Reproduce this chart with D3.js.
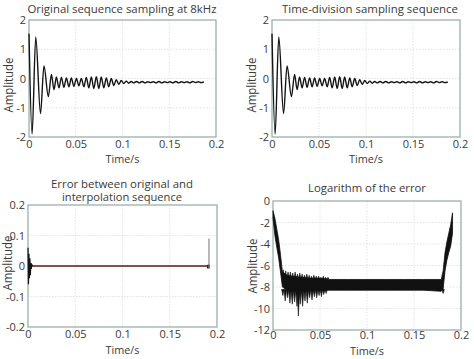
<!DOCTYPE html>
<html><head><meta charset="utf-8">
<script src="https://cdn.jsdelivr.net/npm/d3@7"></script>
<style>
body{margin:0;background:#fff;}
text{font-family:"Open Sans","Noto Sans",sans-serif;fill:#3a3a3a;}
</style></head>
<body><svg id="c" width="474" height="359"></svg>
<script>
// ---------- data ----------
const xTicks = [0, 0.05, 0.1, 0.15, 0.2];
const xTickLabels = ["0", "0.05", "0.1", "0.15", "0.2"];
const ampTicks = [-2, -1, 0, 1, 2];
const errTicks = [-0.2, -0.1, 0, 0.1, 0.2];
const logTicks = [-12, -10, -8, -6, -4, -2, 0];

// extrema of the sampled signal (time s, amplitude)
const sigT = [0, 0.0033, 0.0072, 0.0123, 0.016, 0.0207, 0.024, 0.0267, 0.0293, 0.032, 0.0347, 0.0373, 0.040, 0.0427, 0.0453, 0.048, 0.0507, 0.0533, 0.056, 0.0587, 0.0613, 0.064, 0.0667, 0.0693, 0.072, 0.0747, 0.0773, 0.080, 0.0827, 0.0853, 0.088, 0.0907, 0.0933, 0.096, 0.0987, 0.1013, 0.104, 0.1067, 0.1093, 0.112, 0.115, 0.118, 0.121, 0.124, 0.127, 0.130, 0.133, 0.136, 0.139, 0.142, 0.145, 0.148, 0.151, 0.154, 0.157, 0.160, 0.163, 0.166, 0.169, 0.172, 0.175, 0.178, 0.181, 0.184, 0.187];
const sigV = [1.53, -1.9, 1.42, -1.2, 0.43, -0.62, 0.14, -0.38, 0.05, -0.32, 0.04, -0.30, 0.02, -0.28, 0.02, -0.27, 0.0, -0.25, 0.0, -0.28, 0.04, -0.32, 0.05, -0.34, 0.06, -0.34, 0.05, -0.32, 0.02, -0.28, 0.0, -0.24, -0.04, -0.20, -0.07, -0.17, -0.09, -0.16, -0.10, -0.15, -0.10, -0.15, -0.10, -0.15, -0.11, -0.14, -0.11, -0.15, -0.10, -0.15, -0.11, -0.14, -0.11, -0.15, -0.10, -0.15, -0.11, -0.14, -0.11, -0.15, -0.10, -0.14, -0.11, -0.14, -0.12];

// interpolation error (time s, error)
const errT = [0, 0.0005, 0.001, 0.0015, 0.002, 0.0025, 0.003, 0.0035, 0.004, 0.005, 0.19, 0.1905, 0.191, 0.1915, 0.192];
const errV = [0.06, -0.06, 0.04, -0.04, 0.025, -0.03, 0.01, -0.01, 0.005, 0, 0, -0.008, 0.005, -0.005, 0];
const endSpikeT = [0.1915];
const endSpikeLo = [-0.01];
const endSpikeHi = [0.09];

// logarithm of the error: band envelope
const bandT = [0, 0.002, 0.004, 0.006, 0.008, 0.010, 0.015, 0.02, 0.03, 0.04, 0.05, 0.06, 0.08, 0.10, 0.12, 0.14, 0.16, 0.179, 0.181, 0.183, 0.185, 0.187, 0.189, 0.191];
const bandHi = [-0.9, -1.6, -2.6, -3.6, -5.0, -6.6, -6.9, -7.0, -7.1, -7.2, -7.2, -7.3, -7.3, -7.3, -7.3, -7.3, -7.3, -7.3, -6.5, -4.8, -3.8, -3.0, -2.2, -1.1];
const bandLo = [-1.6, -3.2, -4.3, -5.3, -6.6, -8.0, -8.3, -8.4, -8.4, -8.3, -8.3, -8.3, -8.3, -8.3, -8.3, -8.3, -8.3, -8.4, -8.2, -6.5, -5.5, -4.8, -4.2, -3.0];
const dipT = [0.0105, 0.013, 0.0155, 0.018, 0.0205, 0.023, 0.0255, 0.027, 0.029, 0.0315, 0.034, 0.0365, 0.039, 0.0415, 0.044, 0.0465, 0.049, 0.0515, 0.054, 0.0565, 0.181];
const dipV = [-8.8, -9.3, -9.0, -9.5, -9.6, -9.4, -9.8, -10.7, -9.6, -9.8, -9.3, -9.5, -9.0, -9.2, -8.9, -9.0, -8.8, -8.9, -8.7, -8.6, -8.6];
const peakT = [0.011, 0.0135, 0.016, 0.0185, 0.021, 0.0235, 0.026, 0.0285, 0.031, 0.0335, 0.036, 0.0385, 0.041, 0.0435, 0.046, 0.0485, 0.051, 0.0535, 0.056, 0.0585];
const peakV = [-6.4, -6.5, -6.6, -6.6, -6.7, -6.6, -6.8, -6.7, -6.8, -6.9, -6.8, -6.9, -7.0, -6.9, -7.0, -7.0, -7.1, -7.0, -7.1, -7.1];

// ---------- drawing ----------
const svg = d3.select("#c");
const boxColor = "#93aaa5";

function panel(p) {
  const g = svg.append("g");
  const x = d3.scaleLinear().domain([0, 0.2]).range([p.x0, p.x1]);
  const y = d3.scaleLinear().domain(p.yDom).range([p.y1, p.y0]);
  g.selectAll(".gx").data(xTicks.slice(1, -1)).join("line")
    .attr("x1", d => x(d)).attr("x2", d => x(d)).attr("y1", p.y0).attr("y2", p.y1)
    .attr("stroke", "#dcdcdc").attr("stroke-width", 0.8).attr("stroke-dasharray", "1.5,1.5");
  g.selectAll(".gy").data(p.yTicks.slice(1, -1)).join("line")
    .attr("y1", d => y(d)).attr("y2", d => y(d)).attr("x1", p.x0).attr("x2", p.x1)
    .attr("stroke", "#dcdcdc").attr("stroke-width", 0.8).attr("stroke-dasharray", "1.5,1.5");
  const ax = g.append("g").attr("transform", `translate(0,${p.y1})`)
    .call(d3.axisBottom(x).tickValues(xTicks).tickSize(0).tickPadding(p.xPad).tickFormat((d, i) => xTickLabels[i]));
  const ay = g.append("g").attr("transform", `translate(${p.x0},0)`)
    .call(d3.axisLeft(y).tickValues(p.yTicks).tickSize(0).tickPadding(3).tickFormat(d => String(d)));
  [ax, ay].forEach(a => {
    a.select(".domain").remove();
    a.selectAll("text").style("font-size", "11px").attr("fill", "#3a3a3a");
  });
  g.append("rect").attr("x", p.x0).attr("y", p.y0).attr("width", p.x1 - p.x0).attr("height", p.y1 - p.y0)
    .attr("fill", "none").attr("stroke", boxColor).attr("stroke-width", 1.2);
  g.append("text").attr("x", (p.x0 + p.x1) / 2).attr("y", p.xlY).attr("text-anchor", "middle")
    .style("font-size", "11.5px").attr("textLength", 34).attr("lengthAdjust", "spacingAndGlyphs").text("Time/s");
  g.append("text").attr("transform", `translate(${p.x0 - 16},${p.ylC}) rotate(-90)`)
    .attr("text-anchor", "middle").style("font-size", "12px")
    .attr("textLength", 55).attr("lengthAdjust", "spacingAndGlyphs").text("Amplitude");
  p.title.forEach((t, i) => {
    g.append("text").attr("x", p.tx).attr("y", p.ty + i * 12.5).attr("text-anchor", "middle")
      .style("font-size", "10.5px").attr("textLength", p.tw[i]).attr("lengthAdjust", "spacingAndGlyphs").text(t);
  });
  return {g, x, y};
}

const P1 = panel({x0: 29, x1: 216, y0: 20, y1: 137, yDom: [-2, 2], yTicks: ampTicks, xlY: 163, ylC: 85, xPad: 3,
  title: ["Original sequence sampling at 8kHz"], tx: 122, ty: 13, tw: [189]});
const P2 = panel({x0: 272, x1: 460, y0: 20, y1: 137, yDom: [-2, 2], yTicks: ampTicks, xlY: 163, ylC: 85, xPad: 3,
  title: ["Time-division sampling sequence"], tx: 370, ty: 13, tw: [176]});
const P3 = panel({x0: 28, x1: 217, y0: 205, y1: 327, yDom: [-0.2, 0.2], yTicks: errTicks, xlY: 354, ylC: 263, xPad: 3,
  title: ["Error between original and", "interpolation sequence"], tx: 122, ty: 188, tw: [142, 120]});
const P4 = panel({x0: 273, x1: 461, y0: 201, y1: 330, yDom: [-12, 0], yTicks: logTicks, xlY: 354.5, ylC: 266, xPad: 1,
  title: ["Logarithm of the error"], tx: 367, ty: 192, tw: [118]});

// signals
[P1, P2].forEach(P => {
  const line = d3.line().x(i => P.x(sigT[i])).y(i => P.y(sigV[i])).curve(d3.curveMonotoneX);
  P.g.append("path").attr("d", line(d3.range(sigT.length))).attr("fill", "none")
    .attr("stroke", "#141414").attr("stroke-width", 1.4);
});

// error
{
  const P = P3;
  P.g.append("line").attr("x1", P.x(0)).attr("x2", P.x(0.192)).attr("y1", P.y(0)).attr("y2", P.y(0))
    .attr("stroke", "#5a1a14").attr("stroke-width", 1.4);
  const line = d3.line().x(i => P.x(errT[i])).y(i => P.y(errV[i]));
  P.g.append("path").attr("d", line(d3.range(0, 10))).attr("fill", "none").attr("stroke", "#141414").attr("stroke-width", 1.2);
  P.g.append("path").attr("d", line(d3.range(10, errT.length))).attr("fill", "none").attr("stroke", "#141414").attr("stroke-width", 1.6);
  P.g.selectAll(".sp").data(endSpikeT).join("line")
    .attr("x1", d => P.x(d)).attr("x2", d => P.x(d))
    .attr("y1", (d, i) => P.y(endSpikeLo[i])).attr("y2", (d, i) => P.y(endSpikeHi[i]))
    .attr("stroke", "#8a8a8a").attr("stroke-width", 1.2);
}

// log error
{
  const P = P4;
  const area = d3.area().x(i => P.x(bandT[i])).y0(i => P.y(bandLo[i])).y1(i => P.y(bandHi[i]));
  P.g.append("path").attr("d", area(d3.range(bandT.length))).attr("fill", "#111").attr("stroke", "#111").attr("stroke-width", 0.8);
  P.g.selectAll(".dip").data(dipT).join("path")
    .attr("d", (d, i) => `M${P.x(d) - 1.3},${P.y(-8.2)}L${P.x(d)},${P.y(dipV[i])}L${P.x(d) + 1.3},${P.y(-8.2)}`)
    .attr("fill", "#111").attr("stroke", "#111").attr("stroke-width", 0.6);
  P.g.selectAll(".pk").data(peakT).join("path")
    .attr("d", (d, i) => `M${P.x(d) - 1.2},${P.y(-7.3)}L${P.x(d)},${P.y(peakV[i])}L${P.x(d) + 1.2},${P.y(-7.3)}`)
    .attr("fill", "#111").attr("stroke", "#111").attr("stroke-width", 0.6);
}
</script></body></html>
